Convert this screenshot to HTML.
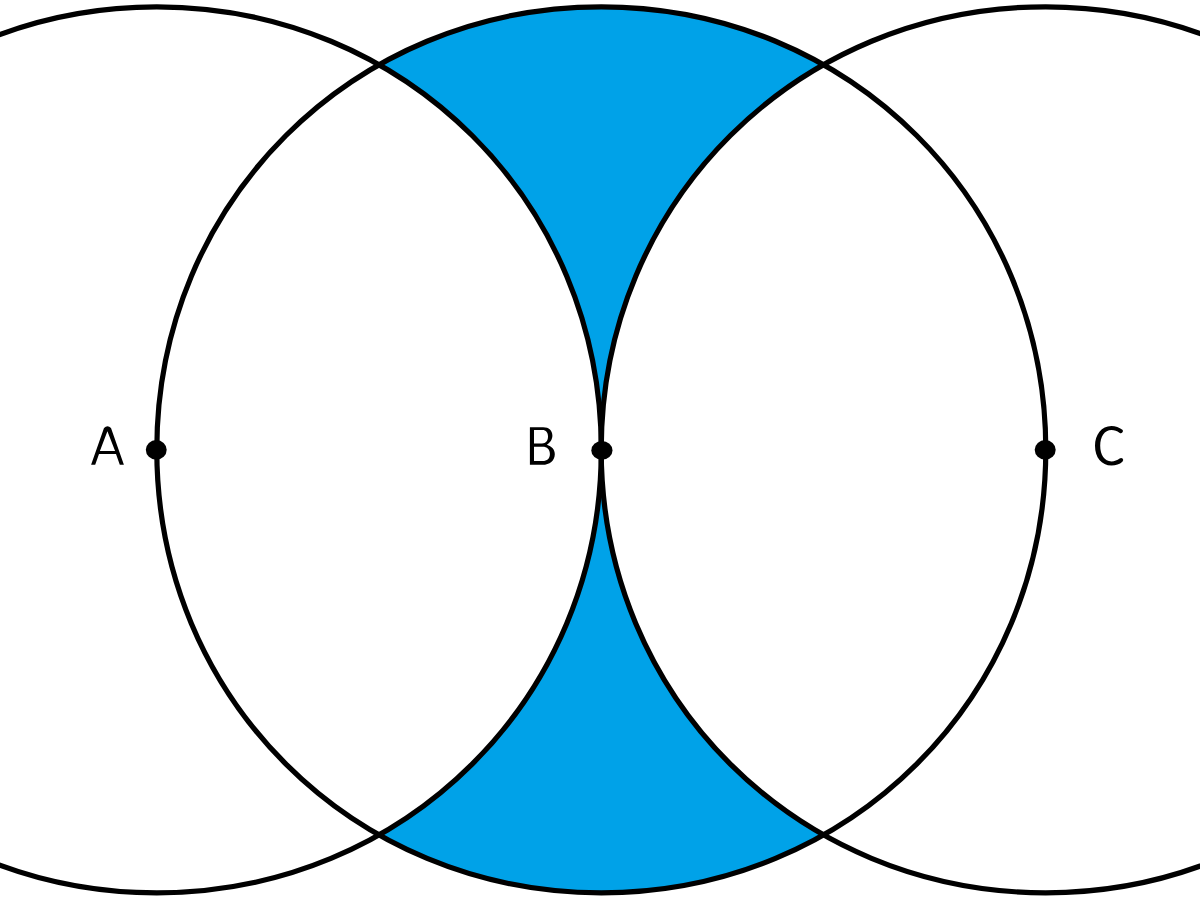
<!DOCTYPE html>
<html><head><meta charset="utf-8"><style>
html,body{margin:0;padding:0;background:#fff;width:1200px;height:900px;overflow:hidden}
svg{display:block}
</style></head><body>
<svg width="1200" height="900" viewBox="0 0 1200 900">
<defs>
<mask id="m">
<rect width="1200" height="900" fill="#fff"/>
<path d="M601.3,449.8 C601.3,697.22 405.05,892.8 156.8,892.8 C-91.45,892.8 -287.7,697.22 -287.7,449.8 C-287.7,202.38 -91.45,6.8 156.8,6.8 C405.05,6.8 601.3,202.38 601.3,449.8 Z" fill="#000"/>
<path d="M1490.2,449.8 C1490.2,697.22 1293.95,892.8 1045.7,892.8 C797.45,892.8 601.2,697.22 601.2,449.8 C601.2,202.38 797.45,6.8 1045.7,6.8 C1293.95,6.8 1490.2,202.38 1490.2,449.8 Z" fill="#000"/>
</mask>
</defs>
<path d="M1045.8,449.8 C1045.8,697.22 849.55,892.8 601.3,892.8 C353.05,892.8 156.8,697.22 156.8,449.8 C156.8,202.38 353.05,6.8 601.3,6.8 C849.55,6.8 1045.8,202.38 1045.8,449.8 Z" fill="#00A2E8" mask="url(#m)"/>
<g fill="none" stroke="#000" stroke-width="5.2">
<path d="M601.3,449.8 C601.3,697.22 405.05,892.8 156.8,892.8 C-91.45,892.8 -287.7,697.22 -287.7,449.8 C-287.7,202.38 -91.45,6.8 156.8,6.8 C405.05,6.8 601.3,202.38 601.3,449.8 Z"/>
<path d="M1045.8,449.8 C1045.8,697.22 849.55,892.8 601.3,892.8 C353.05,892.8 156.8,697.22 156.8,449.8 C156.8,202.38 353.05,6.8 601.3,6.8 C849.55,6.8 1045.8,202.38 1045.8,449.8 Z"/>
<path d="M1490.2,449.8 C1490.2,697.22 1293.95,892.8 1045.7,892.8 C797.45,892.8 601.2,697.22 601.2,449.8 C601.2,202.38 797.45,6.8 1045.7,6.8 C1293.95,6.8 1490.2,202.38 1490.2,449.8 Z"/>
</g>
<ellipse cx="156.25" cy="449.85" rx="10.45" ry="9.85"/>
<ellipse cx="601.9" cy="450.4" rx="10.6" ry="9.35"/>
<ellipse cx="1045.2" cy="449.85" rx="10.5" ry="9.85"/>
<path fill="#000" fill-rule="evenodd" d="M91.1,464.8 L104,427.9 Q107.5,424.6 111,427.9 L123.9,464.8 L119.8,464.8 L116,454 L99,454 L95.2,464.8 Z M107.4,431.2 L99.9,451.1 L115.1,451.1 Z"/>
<g fill="none" stroke="#000" stroke-width="4">
<path fill="#000" stroke="none" fill-rule="evenodd" d="M529.9,427.2 H543.2 C549,427.2 552.4,430.6 552.4,435.6 C552.4,439.6 550,442.9 546.8,444.8 C551.8,446.4 554.8,449.6 554.8,454.2 C554.8,460.6 549.6,464.8 542.5,464.8 H529.9 Z M534,430.1 V443.5 H542 C546,443.5 548,440.6 548,436.6 C548,432.6 545.9,430.1 542.5,430.1 Z M534,446.7 V461.1 H542.5 C547.3,461.1 549.9,458.5 549.9,454 C549.9,449.4 547.2,446.7 542.5,446.7 Z"/>
<path fill="#000" stroke="none" d="M1122.4,429.8 C1119.2,427.2 1115.5,425.9 1111.5,425.9 C1101.5,425.9 1095,434.5 1095,445.8 C1095,457.5 1101.5,465.6 1111.5,465.6 C1115.8,465.6 1119.6,464.3 1122.4,461.8 Q1124,460.2 1122.6,458.6 Q1121.2,457.3 1119.6,458.5 C1117.3,460.3 1114.5,461.4 1111.5,461.4 C1104.5,461.4 1100.2,455 1100.2,445.8 C1100.2,436.5 1104.5,430 1111.5,430 C1114.5,430 1117.1,431 1119.4,432.7 Q1121,433.8 1122.3,432.6 Q1123.8,431.1 1122.4,429.8 Z"/>
</g>
</svg>
</body></html>
